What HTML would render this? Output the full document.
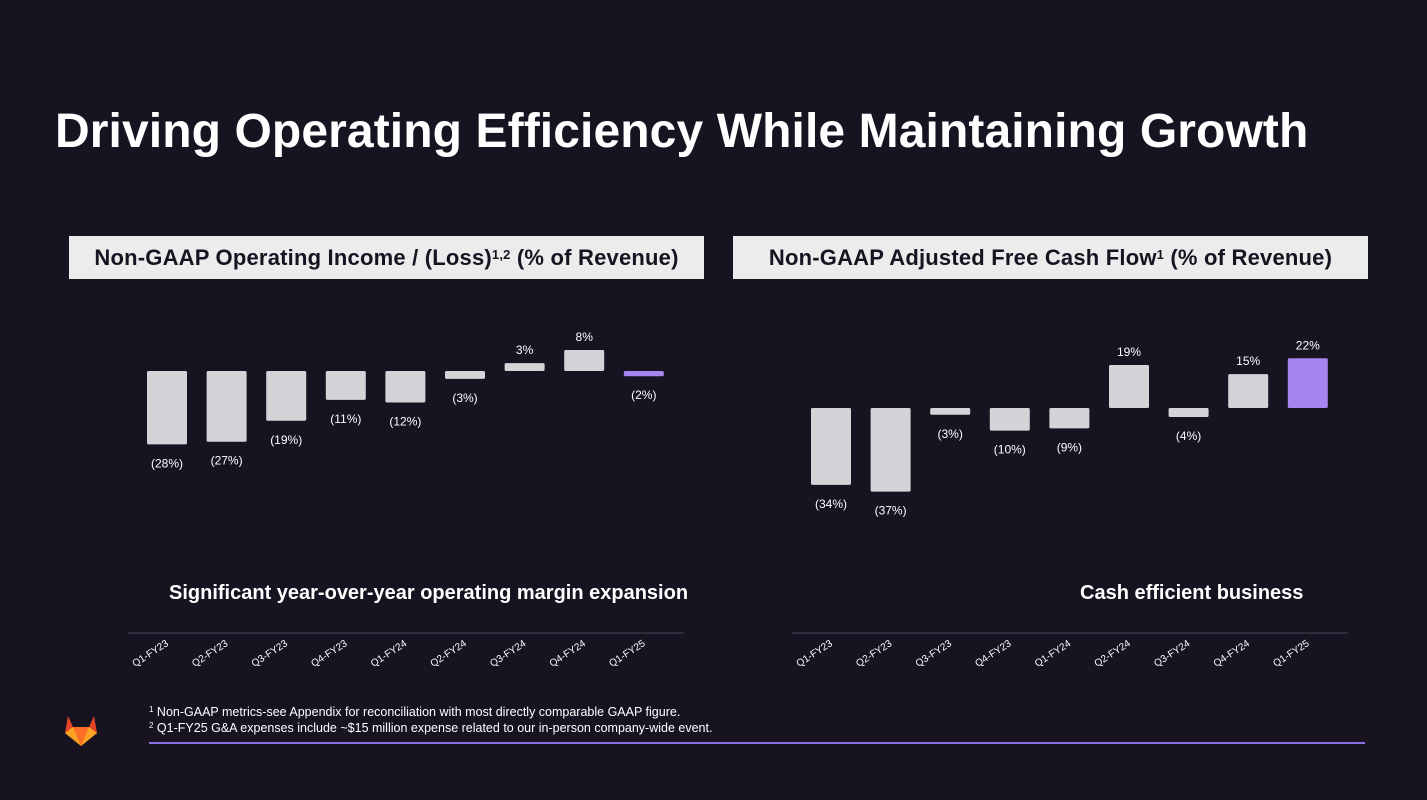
<!DOCTYPE html>
<html><head><meta charset="utf-8">
<style>
body{margin:0;width:1427px;height:800px;background:#171321;overflow:hidden;font-family:"Liberation Sans",sans-serif;}
.t{position:absolute;color:#fff;}
.hdr{position:absolute;top:236px;height:43px;background:#ececec;color:#171321;font-weight:bold;font-size:22px;letter-spacing:0.2px;line-height:44px;text-align:center;}
sup{position:relative;top:-0.5em;vertical-align:baseline;line-height:0;}
</style></head><body>
<div class="t" style="left:55px;top:104px;font-size:48px;font-weight:bold;letter-spacing:0.1px;">Driving Operating Efficiency While Maintaining Growth</div>
<div class="hdr" style="left:69px;width:635px;">Non-GAAP Operating Income / (Loss)<sup style="font-size:13px">1,2</sup> (% of Revenue)</div>
<div class="hdr" style="left:733px;width:635px;">Non-GAAP Adjusted Free Cash Flow<sup style="font-size:13px">1</sup> (% of Revenue)</div>
<div class="t" style="left:169px;top:582px;font-size:20px;font-weight:bold;">Significant year-over-year operating margin expansion</div>
<div class="t" style="left:1080px;top:582px;font-size:20px;font-weight:bold;">Cash efficient business</div>
<svg id="ch" width="1427" height="800" style="position:absolute;left:0;top:0"></svg>
<div class="t" style="left:149px;top:705px;font-size:12.5px;line-height:15.5px;"><sup style="font-size:8px">1</sup> Non-GAAP metrics-see Appendix for reconciliation with most directly comparable GAAP figure.<br><sup style="font-size:8px">2</sup> Q1-FY25 G&amp;A expenses include ~$15 million expense related to our in-person company-wide event.</div>
<div style="position:absolute;left:149px;top:742px;width:1216px;height:2px;background:#8a6fe0"></div>
<svg style="position:absolute;left:64px;top:714px" width="34" height="33" viewBox="0 0 34 33">
<polygon points="17,32 1,19 4,2 9,13 25,13 30,2 33,19" fill="#e24329"/>
<polygon points="17,32 9,13 25,13" fill="#fc6d26"/>
<polygon points="1,19 9,13 17,32" fill="#fca326"/>
<polygon points="33,19 25,13 17,32" fill="#fca326"/>
</svg>
<script>
const categories=["Q1-FY23","Q2-FY23","Q3-FY23","Q4-FY23","Q1-FY24","Q2-FY24","Q3-FY24","Q4-FY24","Q1-FY25"];
const opIncome=[-28,-27,-19,-11,-12,-3,3,8,-2];
const fcf=[-34,-37,-3,-10,-9,19,-4,15,22];
const svg=document.getElementById('ch');
const NS='http://www.w3.org/2000/svg';
function mk(t,a){const e=document.createElementNS(NS,t);for(const k in a)e.setAttribute(k,a[k]);svg.appendChild(e);return e;}
function fmt(v){return v<0?'('+(-v)+'%)':v+'%';}
function draw(vals,x0,step,base,scale,axisX1,axisX2,prefix){
  const x=i=>x0+i*step, y=v=>base-v*scale;
  const ax=mk('line',{x1:axisX1,x2:axisX2,y1:633,y2:633,stroke:'#3a3545','stroke-width':1.5});
  
  vals.forEach((v,i)=>{
    const last=i===vals.length-1;
    const top=Math.min(y(v),base),h=Math.max(Math.abs(y(v)-base),1);
    const r=mk('rect',{x:x(i)-20,y:top,width:40,height:h,rx:1.5,fill:last?'#a685f0':'#d4d3d8'});
    
    
    const ly=v<0?y(v)+23:y(v)-9;
    const t=mk('text',{x:x(i),y:ly,'text-anchor':'middle',fill:'#fff','font-size':12,'font-family':'Liberation Sans, sans-serif'});
    t.textContent=fmt(v);
    
    
    const cx=x(i)+2, cy=645;
    const c=mk('text',{x:cx,y:cy,'text-anchor':'end',fill:'#fff','font-size':10,'font-family':'Liberation Sans, sans-serif',transform:'rotate(-33 '+cx+' '+cy+')'});
    c.textContent=categories[i];
    
    
  });
}
draw(opIncome,167,59.6,371,2.62,128,684,'op-income');
draw(fcf,831,59.6,408,2.26,792,1348,'fcf');
</script>
</body></html>
